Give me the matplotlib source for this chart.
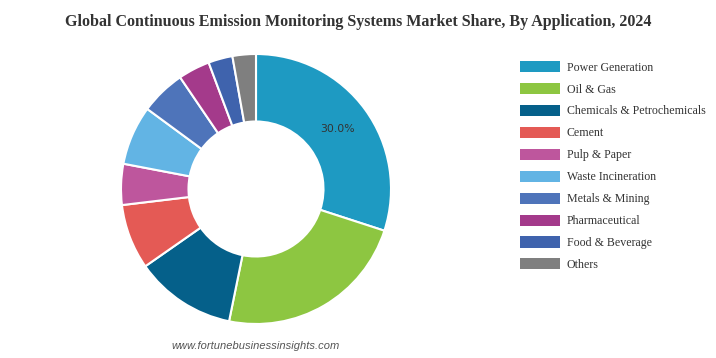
import numpy as np
import matplotlib.pyplot as plt

categories = ["Power Generation", "Oil & Gas", "Chemicals & Petrochemicals", "Cement",
              "Pulp & Paper", "Waste Incineration", "Metals & Mining", "Pharmaceutical",
              "Food & Beverage", "Others"]
shares = [30.0, 23.2, 12.1, 7.8, 4.9, 7.1, 5.4, 3.8, 2.9, 2.8]
colors = ["#1e9ac2", "#8dc641", "#05608a", "#e45a55", "#be569d",
          "#62b4e4", "#4e74ba", "#a43a8b", "#3f63ad", "#7f7f7f"]

W, H = 716, 358
fig = plt.figure(figsize=(W / 100, H / 100), dpi=100)

# donut centred at (256, 189) px, outer radius 135 px
cx, cy, r = 256, 189, 135
ax = fig.add_axes([(cx - r) / W, (H - cy - r) / H, 2 * r / W, 2 * r / H])
wedges, _ = ax.pie(shares, colors=colors, startangle=90, counterclock=False,
                   radius=1, wedgeprops=dict(width=0.5, edgecolor="white", linewidth=1.5))
ax.set_xlim(-1, 1)
ax.set_ylim(-1, 1)
ax.set_aspect("equal")
ax.axis("off")

# label only the largest slice
mid = np.deg2rad(90 - shares[0] / 100 * 360 / 2)
ax.text(0.75 * np.cos(mid), 0.75 * np.sin(mid), f"{shares[0]:.1f}%",
        ha="center", va="center", fontsize=7.8, color="#333333", family="DejaVu Sans")

fig.text(0.5, 1 - 22 / H, "Global Continuous Emission Monitoring Systems Market Share, By Application, 2024",
         ha="center", va="center", fontsize=11.5, fontweight="bold",
         family="Liberation Serif", color="#333333")

leg = fig.legend(wedges, categories, loc="upper left", bbox_to_anchor=(520 / W, 1 - 61 / H),
                 frameon=False, prop=dict(family="Liberation Serif", size=8.6),
                 handlelength=3.35, handleheight=1.05, handletextpad=0.55,
                 labelspacing=0.78, borderaxespad=0, borderpad=0)
for t in leg.get_texts():
    t.set_color("#333333")
for p in leg.get_patches():
    p.set_edgecolor("none")

fig.text(256 / W, 1 - 346 / H, "www.fortunebusinessinsights.com", ha="center", va="center",
         fontsize=8, style="italic", family="Liberation Sans", color="#555555")

plt.savefig("out.png", dpi=100)
